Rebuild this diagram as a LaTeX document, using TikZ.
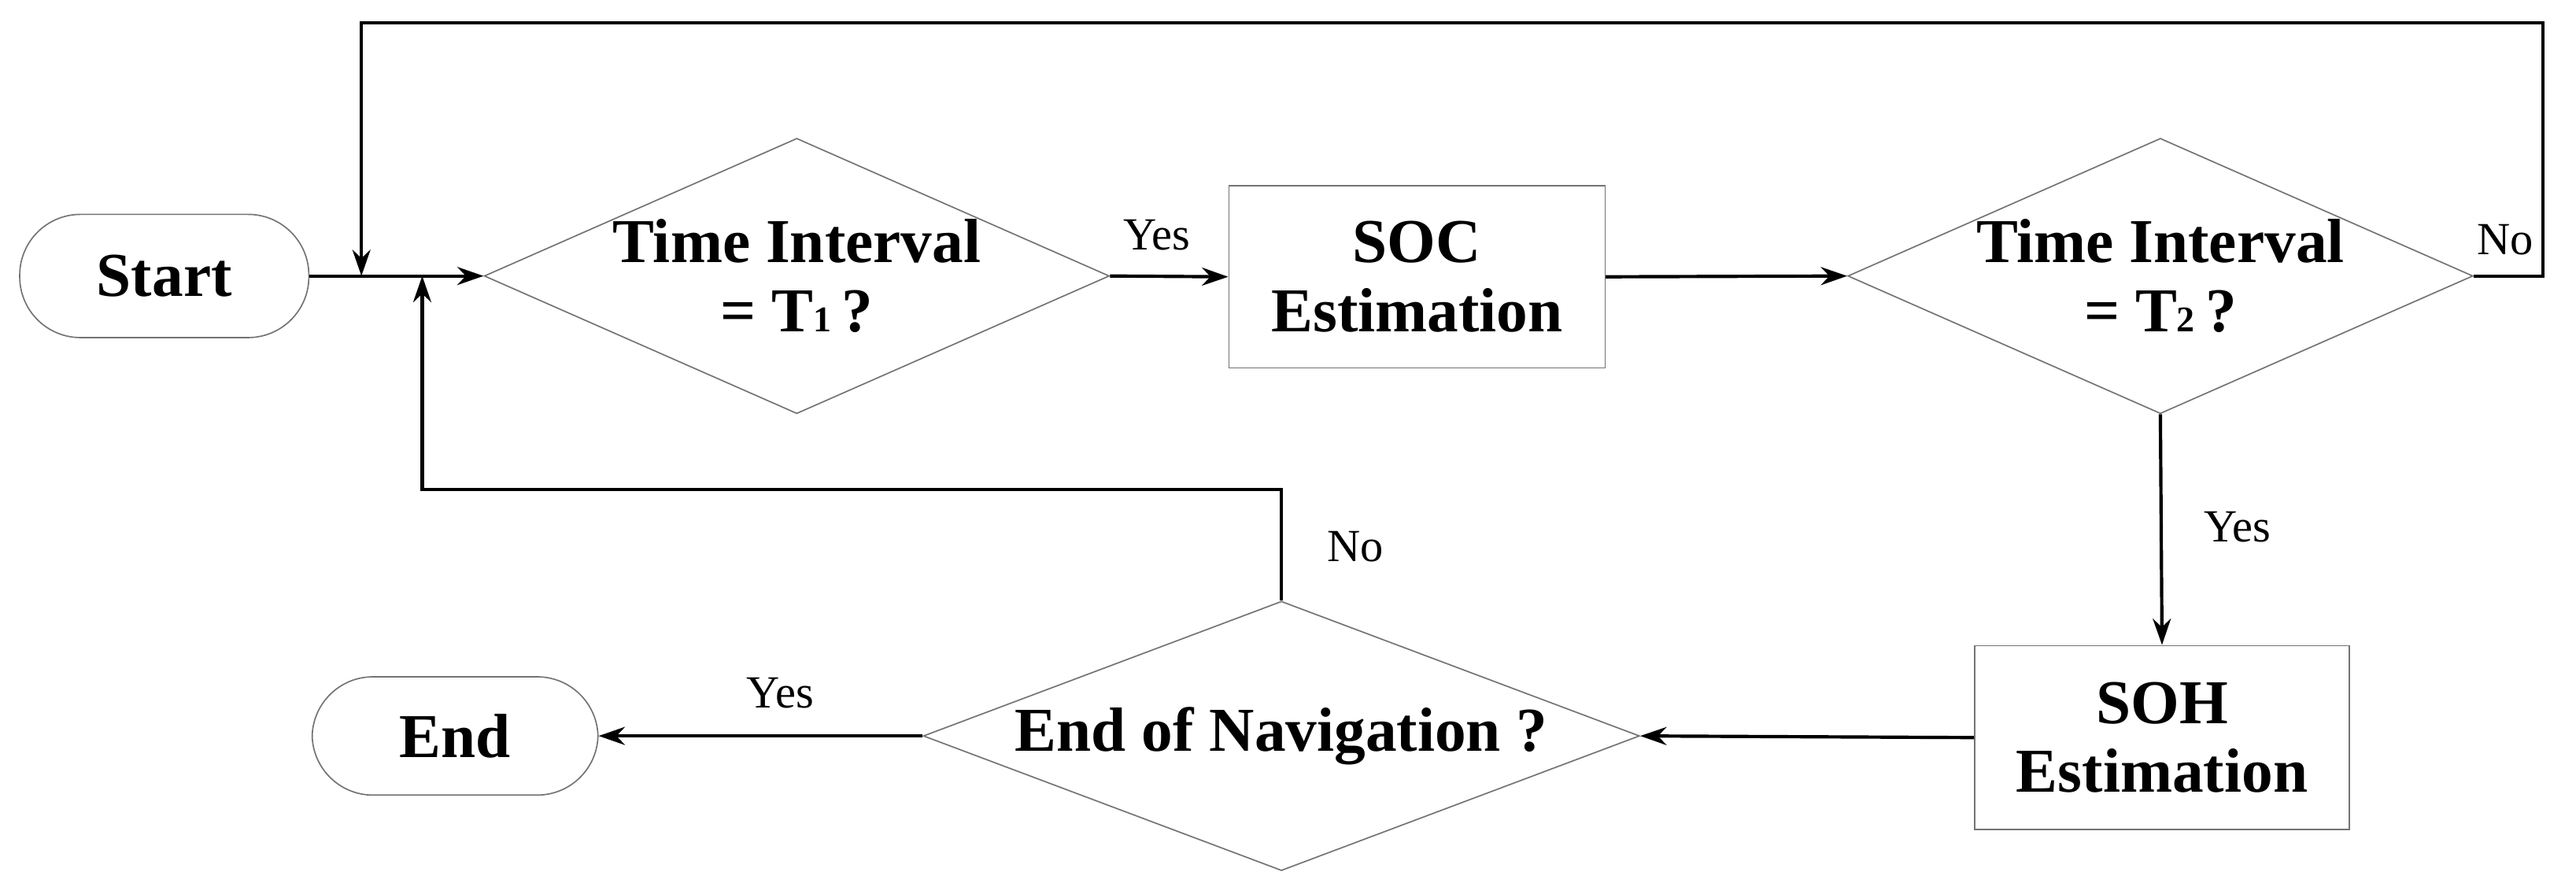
\documentclass[tikz,border=0pt]{standalone}
\usepackage{fontspec}
\setmainfont{Liberation Serif}
\usetikzlibrary{shapes.geometric,arrows.meta}
\begin{document}
\begin{tikzpicture}[x=1pt,y=-1pt,
  shp/.style={draw=black!55,line width=0.8pt,inner sep=0pt,font=\fontsize{38}{42}\selectfont\bfseries,align=center},
  term/.style={shp,rounded corners=37pt},
  arr/.style={line width=2pt,-{Stealth[length=16pt,width=11pt]}},
  lab/.style={font=\fontsize{28}{32}\selectfont}]
\useasboundingbox (0,0) rectangle (1568,544);
\node[term,minimum width=176pt,minimum height=75pt] (start) at (100,168) {Start};
\node[term,minimum width=174pt,minimum height=72pt] (end) at (277,448) {End};
\node[shp,diamond,aspect=2.27,minimum width=374pt,minimum height=165pt] (d1) at (485,168) {Time Interval\\= T{\fontsize{22}{22}\selectfont 1}\,?};
\node[shp,minimum width=229pt,minimum height=111pt] (soc) at (862.5,168.5) {SOC\\Estimation};
\node[shp,diamond,aspect=2.27,minimum width=374pt,minimum height=165pt] (d2) at (1315,168) {Time Interval\\= T{\fontsize{22}{22}\selectfont 2}\,?};
\node[shp,minimum width=228pt,minimum height=112pt] (soh) at (1316,449) {SOH\\Estimation};
\node[shp,diamond,aspect=2.66,minimum width=436pt,minimum height=164pt] (d3) at (780,448) {End of Navigation ?};
\coordinate (j1) at (220,168);
\coordinate (j2) at (257,168);
\draw[arr] (start.east) -- (d1.west);
\draw[arr] (d1.east) -- (soc.west);
\draw[arr] (soc.east) -- (d2.west);
\draw[arr] (d2.south) -- (soh.north);
\draw[arr] (soh.west) -- (d3.east);
\draw[arr] (d3.west) -- (end.east);
\draw[arr] (d2.east) -- (1548,168) -- (1548,14) -- (220,14) -- (j1);
\draw[arr] (d3.north) -- (780,298) -- (257,298) -- (j2);
\node[lab] at (704,143) {Yes};
\node[lab] at (1525,146) {No};
\node[lab] at (1362,321) {Yes};
\node[lab] at (825,333) {No};
\node[lab] at (475,422) {Yes};
\end{tikzpicture}
\end{document}
